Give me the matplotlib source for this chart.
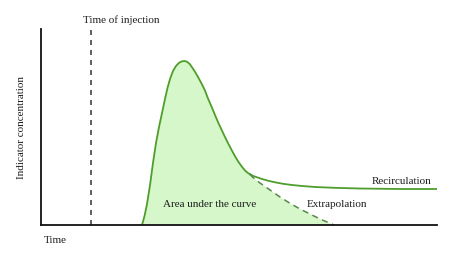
import matplotlib
matplotlib.use("Agg")
import matplotlib.pyplot as plt

# first pass of indicator
curve_t = [25.51, 26.14, 26.77, 27.53, 28.28, 29.04, 29.80, 30.56, 31.31, 31.94,
           32.58, 33.33, 34.09, 34.85, 35.61, 36.24, 36.87, 37.63, 38.26, 38.89,
           39.65, 40.58, 41.41, 42.15, 43.11, 43.94, 44.77, 45.63, 46.46, 47.30,
           48.16, 48.99, 49.83, 50.69, 51.52, 52.35, 52.78]
curve_c = [0.0, 4.59, 10.71, 20.41, 31.63, 41.84, 50.0, 57.14, 64.29, 69.90,
           74.49, 78.57, 81.12, 82.76, 83.52, 83.67, 83.32, 81.99, 80.10, 78.16,
           75.51, 72.04, 68.62, 64.64, 60.20, 56.12, 52.19, 48.47, 44.90, 41.48,
           38.16, 35.10, 32.30, 29.85, 27.81, 26.38, 25.87]

# recirculation tail
recirc_t = [52.78, 53.61, 54.55, 55.81, 57.32, 59.09, 61.11, 63.38, 65.91,
            69.19, 73.99, 80.56, 90.66, 100.0]
recirc_c = [25.87, 25.0, 24.34, 23.47, 22.60, 21.79, 21.02, 20.41, 19.90,
            19.39, 18.98, 18.62, 18.37, 18.37]

# extrapolated decay
extrap_t = [52.78, 53.54, 55.30, 57.83, 60.35, 62.88, 65.40, 67.93, 70.45, 73.99]
extrap_c = [25.87, 24.23, 21.43, 17.86, 14.29, 11.07, 8.16, 5.61, 3.06, 0.0]

injection_t = 12.6

green = '#4f9e2c'
fill_green = '#d6f7c9'
font = 'Liberation Serif'
txt = '#1e1e1e'
fs = 8

fig = plt.figure(figsize=(4.74, 2.58), dpi=100)
ax = fig.add_axes([41/474, 33/258, 396/474, 196/258])
ax.set_xlim(0, 100)
ax.set_ylim(0, 100)

ax.fill(curve_t + extrap_t[1:], curve_c + extrap_c[1:], color=fill_green, lw=0)
ax.plot(curve_t, curve_c, color=green, lw=1.3, solid_joinstyle='round')
ax.plot(recirc_t, recirc_c, color=green, lw=1.3, solid_joinstyle='round')
ax.plot(extrap_t, extrap_c, color='#58864a', lw=1.1, dashes=(4, 3))
ax.plot([injection_t, injection_t], [0, 100.5], color='#444444', lw=1.2,
        dashes=(3, 3), clip_on=False)

for s in ['top', 'right']:
    ax.spines[s].set_visible(False)
for s in ['left', 'bottom']:
    ax.spines[s].set_linewidth(1.3)
    ax.spines[s].set_color('#111111')
    ax.spines[s].set_zorder(5)
ax.set_xticks([])
ax.set_yticks([])

ax.text(20.2, 104.6, 'Time of injection', ha='center', va='center',
        fontsize=fs, family=font, color=txt, clip_on=False)
ax.text(30.8, 10.7, 'Area under the curve', ha='left', va='center',
        fontsize=fs, family=font, color=txt)
ax.text(67.2, 10.7, 'Extrapolation', ha='left', va='center',
        fontsize=fs, family=font, color=txt)
ax.text(83.6, 22.4, 'Recirculation', ha='left', va='center',
        fontsize=fs, family=font, color=txt)
ax.text(0.8, -7.7, 'Time', ha='left', va='center',
        fontsize=fs, family=font, color=txt, clip_on=False)
ax.text(-4.8, 49.5, 'Indicator concentration', ha='center', va='center',
        rotation=90, fontsize=fs, family=font, color=txt, clip_on=False)

fig.savefig('out.png', dpi=100)
